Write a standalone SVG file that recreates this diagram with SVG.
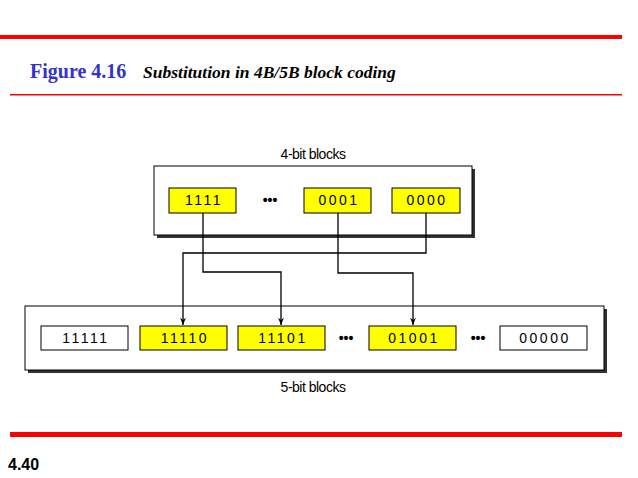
<svg xmlns="http://www.w3.org/2000/svg" width="638" height="478" viewBox="0 0 638 478">
<defs>
<style>
.outer{fill:#fff;stroke:#000;stroke-width:1}
.sh{fill:#333}
.y{fill:#ffff00;stroke:#000;stroke-width:1}
.w{fill:#fff;stroke:#000;stroke-width:1}
.t{font-family:"Liberation Sans Narrow","Liberation Sans",sans-serif;font-size:14px;text-anchor:middle;letter-spacing:2.5px}
.lbl{font-family:"Liberation Sans Narrow","Liberation Sans",sans-serif;font-size:14px;text-anchor:middle;letter-spacing:-0.5px}
.dots{font-family:"Liberation Sans",sans-serif;font-size:14px;font-weight:bold;text-anchor:middle}
.c{fill:none;stroke:#000;stroke-width:1.3}
</style>
<marker id="b" markerWidth="8" markerHeight="11" refX="10" refY="4" orient="auto" markerUnits="userSpaceOnUse" viewBox="0 0 11 8"><path d="M0,0 L10,4 L0,8 L3,4z" fill="#000"/></marker>
</defs>
<rect x="0" y="35" width="622" height="4" fill="#ff0000"/>
<text x="30" y="78" font-family="Liberation Serif,serif" font-size="20" font-weight="bold" fill="#3333cc">Figure 4.16</text>
<text x="143" y="78" font-family="Liberation Serif,serif" font-size="17.5" font-weight="bold" font-style="italic">Substitution in 4B/5B block coding</text>
<rect x="10" y="94" width="612" height="1.5" fill="#ff0000"/>
<rect x="10" y="432" width="612" height="5" fill="#ff0000"/>
<text x="8" y="470" font-family="Liberation Sans,sans-serif" font-size="16" font-weight="bold">4.40</text>
<g id="top">
<text class="lbl" x="313" y="159">4-bit blocks</text>
<rect class="sh" x="157" y="169" width="318" height="69"/>
<rect class="outer" x="154" y="166" width="318" height="69"/>
</g>
<g id="b1111"><rect class="y" x="169" y="188" width="67" height="25"/><text class="t" x="204" y="205">1111</text></g>
<g id="d1"><text class="dots" x="270" y="205">•••</text></g>
<g id="b0001"><rect class="y" x="304" y="188" width="67" height="25"/><text class="t" x="339" y="205">0001</text></g>
<g id="b0000"><rect class="y" x="392" y="188" width="68" height="25"/><text class="t" x="427" y="205">0000</text></g>
<g id="bottom">
<rect class="sh" x="28" y="309" width="579" height="64"/>
<rect class="outer" x="25" y="306" width="579" height="64"/>
<text class="lbl" x="313" y="392">5-bit blocks</text>
</g>
<g id="c11111"><rect class="w" x="41" y="326" width="87" height="24"/><text class="t" x="86" y="343">11111</text></g>
<g id="c11110"><rect class="y" x="140" y="326" width="87" height="24"/><text class="t" x="185" y="343">11110</text></g>
<g id="c11101"><rect class="y" x="238" y="326" width="87" height="24"/><text class="t" x="283" y="343">11101</text></g>
<g id="d2"><text class="dots" x="346" y="343">•••</text></g>
<g id="c01001"><rect class="y" x="369" y="326" width="87" height="24"/><text class="t" x="414" y="343">01001</text></g>
<g id="d3"><text class="dots" x="478" y="343">•••</text></g>
<g id="c00000"><rect class="w" x="500" y="326" width="87" height="24"/><text class="t" x="545" y="343">00000</text></g>
<g id="connectors">
<path class="c" d="M203,213 V272 H281 V325" marker-end="url(#b)"/>
<path class="c" d="M338,213 V273 H413 V325" marker-end="url(#b)"/>
<path class="c" d="M426,213 V253 H183 V325" marker-end="url(#b)"/>
</g>
</svg>
